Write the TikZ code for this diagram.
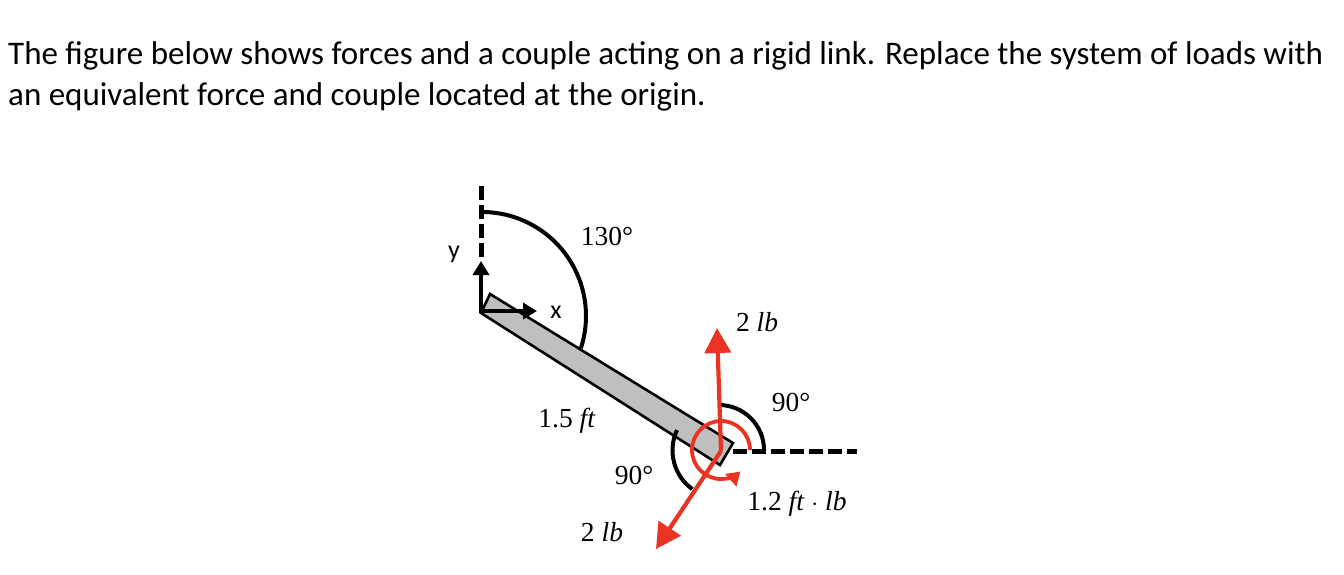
\documentclass[tikz,border=0pt]{standalone}
\usepackage{fontspec}
\setmainfont{Carlito}
\newfontfamily\numfont{Liberation Serif}
\usetikzlibrary{arrows.meta}
\definecolor{fred}{RGB}{235,51,36}
\definecolor{barg}{RGB}{191,191,191}
\tikzset{
  headline/.style={anchor=base west,inner sep=0pt,font=\fontsize{33}{33}\selectfont},
  lab/.style={inner sep=0pt,font=\fontsize{26}{26}\selectfont},
  mlab/.style={inner sep=0pt,font=\numfont\fontsize{27.5}{28}\selectfont},
  axis/.style={line width=4pt,-{Triangle[length=14pt,width=16pt]}},
  dashaxis/.style={line width=5pt,dash pattern=on 14pt off 5pt},
  anglearc/.style={line width=4pt},
  redforce/.style={line width=4.2pt,fred,-{Triangle[length=25pt,width=26pt]}},
  redcouple/.style={line width=3.8pt,fred,-{Triangle[length=13pt,width=16pt]}},
  barshape/.style={draw=black,line width=2.6pt,fill=barg,line join=miter}
}
\begin{document}
\begin{tikzpicture}[x=1pt,y=-1pt]
\useasboundingbox (0,0) rectangle (1344,574);
\node[headline] (l1) at (8,64) {The figure below shows forces and a couple acting on a rigid link. Replace the system of loads with};
\node[headline] (l2) at (8,105) {an equivalent force and couple located at the origin.};
\coordinate (O) at (481,313);
\coordinate (Ox) at (479,311);
\coordinate (E) at (721,451);
\coordinate (ytop) at (481,186);
\coordinate (ytip) at (481,261);
\coordinate (xtip) at (537,311);
\coordinate (rstart) at (733,451);
\coordinate (rend) at (857,451);
\coordinate (Fup) at (717,328);
\coordinate (Fdn) at (656,549);
\draw[barshape] (O) -- (490,294) -- (733,443) -- (720,465) -- cycle;
\draw[dashaxis] (ytop) -- (ytip);
\draw[dashaxis] (rstart) -- (rend);
\draw[axis] (O) -- (ytip);
\draw[axis] (Ox) -- (xtip);
\draw[anglearc] (482,212) arc[start angle=-90,end angle=18,radius=104];
\draw[anglearc] (719,405) arc[start angle=-90,end angle=0,radius=45];
\draw[anglearc] (677,430) arc[start angle=-155,end angle=-234,radius=48];
\draw[redforce] (E) -- (Fup);
\draw[redforce] (E) -- (Fdn);
\draw[redcouple] (750,450) arc[start angle=0,end angle=-312,radius=29];
\node[lab] (ny) at (454,254) {y};
\node[lab] (nx) at (556,312) {x};
\node[mlab] (a130) at (607,236) {130°};
\node[mlab] (f1) at (757,322) {2 \textit{lb}};
\node[mlab] (a90r) at (791,402) {90°};
\node[mlab] (len) at (567,421) {1.5 \textit{ft}};
\node[mlab] (a90l) at (634,475) {90°};
\node[mlab] (f2) at (602,532) {2 \textit{lb}};
\node[mlab] (mom) at (797,504) {1.2 \textit{ft} $\cdot$ \textit{lb}};
\end{tikzpicture}
\end{document}
